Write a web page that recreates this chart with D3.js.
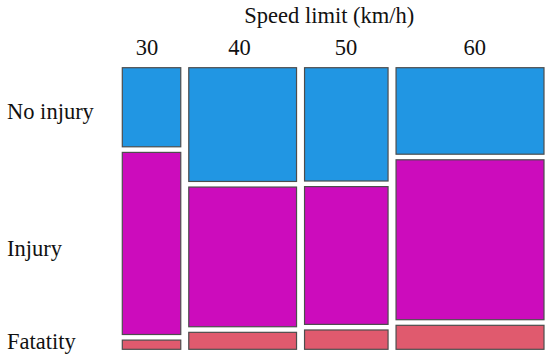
<!DOCTYPE html>
<html><head><meta charset="utf-8">
<script src="https://cdn.jsdelivr.net/npm/d3@7"></script>
<style>body{margin:0;background:#fff}svg{display:block}text{font-family:"Liberation Serif","Times New Roman",serif;fill:#111}</style>
</head><body>
<svg id="c" width="550" height="360"></svg>
<script>
// Data (approximate counts read from mosaic areas)
const speedLimits = ["30", "40", "50", "60"];
const outcomes = ["No injury", "Injury", "Fatatity"];
const noInjury = [43, 114, 88, 119];
const injury   = [99, 140, 107, 220];
const fatality = [5, 17, 15, 33];
const colors = ["#2196e3", "#cc0cbc", "#e05a6e"];
const axisTitle = "Speed limit (km/h)";

(function () {
const svg = d3.select("#c");
const pLeft = 122.3, pRight = 544, pTop = 67.7, pBottom = 349.3;
const gapX = 8, gapY = 5.6;
const fs = 22.5;

const series = [noInjury, injury, fatality];
const colTotals = speedLimits.map((_, i) => series.reduce((s, a) => s + a[i], 0));
const grand = d3.sum(colTotals);

const xs = d3.scaleLinear().domain([0, grand]).range([0, (pRight - pLeft) - gapX * (speedLimits.length - 1)]);
let cum = 0;
const cols = speedLimits.map((s, i) => {
  const x0 = pLeft + xs(cum) + i * gapX;
  const mid = (cum + colTotals[i] / 2) / grand;
  cum += colTotals[i];
  return { s, i, x0, w: xs(colTotals[i]), mid };
});

cols.forEach(c => {
  const ys = d3.scaleLinear().domain([0, colTotals[c.i]]).range([0, (pBottom - pTop) - gapY * (outcomes.length - 1)]);
  let cy = 0;
  outcomes.forEach((o, j) => {
    const v = series[j][c.i];
    svg.append("rect")
      .attr("x", c.x0).attr("y", pTop + ys(cy) + j * gapY)
      .attr("width", c.w).attr("height", ys(v))
      .attr("fill", colors[j]).attr("stroke", "#4d4d4d").attr("stroke-width", 1.2);
    cy += v;
  });
});

// Column labels
const lx = d3.scaleLinear().domain([0, 1]).range([114.4, 557.2]);
svg.selectAll(".cl").data(cols).enter().append("text")
  .attr("x", d => lx(d.mid)).attr("y", 55)
  .attr("text-anchor", "middle").attr("font-size", fs).text(d => d.s);

svg.append("text").attr("x", 329.3).attr("y", 23.3)
  .attr("text-anchor", "middle").attr("font-size", fs).text(axisTitle);

// Row labels at marginal mids
const rowTotals = series.map(a => d3.sum(a));
let rc = 0;
const rowMids = rowTotals.map(t => { const m = (rc + t / 2) / grand; rc += t; return m; });
const ly = d3.scaleLinear().domain([0, 1]).range([66.0, 359.0]);
svg.selectAll(".rl").data(outcomes).enter().append("text")
  .attr("x", 7).attr("y", (d, j) => ly(rowMids[j]))
  .attr("font-size", fs).text(d => d);
})();
</script>
</body></html>
